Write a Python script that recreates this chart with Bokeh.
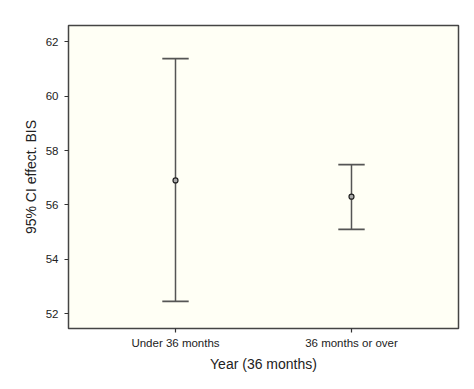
from bokeh.plotting import figure
from bokeh.models import FixedTicker, ColumnDataSource
from bokeh.embed import file_html
from bokeh.resources import INLINE

categories = ["Under 36 months", "36 months or over"]
positions = [1, 2]
means = [56.9, 56.3]
lower = [52.45, 55.1]
upper = [61.38, 57.48]
y_ticks = [52, 54, 56, 58, 60, 62]

cap = 0.075
src = ColumnDataSource(dict(
    x=positions, m=means, lo=lower, hi=upper,
    x0=[p - cap for p in positions], x1=[p + cap for p in positions],
))

p = figure(width=466, height=381, output_backend="svg", toolbar_location=None,
           x_range=(0.392, 2.608), y_range=(51.45, 62.6),
           min_border_left=68, min_border_right=8, min_border_top=25, min_border_bottom=53)
p.background_fill_color = "#fffff5"
p.border_fill_color = "white"
p.outline_line_color = "#444444"
p.outline_line_width = 1.5
p.grid.visible = False

line_col = "#555555"
p.segment(x0="x", x1="x", y0="lo", y1="hi", source=src, line_color=line_col, line_width=1.5)
p.segment(x0="x0", x1="x1", y0="hi", y1="hi", source=src, line_color=line_col, line_width=1.8)
p.segment(x0="x0", x1="x1", y0="lo", y1="lo", source=src, line_color=line_col, line_width=1.8)
p.scatter(x="x", y="m", source=src, size=5, marker="circle",
          line_color="#222222", fill_color="#aaaaaa", line_width=1.2)

for ax in (p.xaxis[0], p.yaxis[0]):
    ax.axis_line_color = None
    ax.minor_tick_line_color = None
    ax.major_tick_out = 4
    ax.major_tick_in = 0
    ax.major_tick_line_color = "#333333"
    ax.major_tick_line_width = 1.2
    ax.major_label_text_font = "Liberation Sans"
    ax.major_label_text_font_size = "11.5px"
    ax.major_label_text_color = "#222222"
    ax.axis_label_text_font = "Liberation Sans"
    ax.axis_label_text_font_size = "14px"
    ax.axis_label_text_font_style = "normal"
    ax.axis_label_text_color = "#222222"

p.xaxis.ticker = FixedTicker(ticks=positions)
p.xaxis.major_label_overrides = {pos: c for pos, c in zip(positions, categories)}
p.xaxis.axis_label = "Year (36 months)"
p.xaxis.major_label_standoff = 4
p.xaxis.axis_label_standoff = 4

p.yaxis.ticker = FixedTicker(ticks=y_ticks)
p.yaxis.axis_label = "95% CI effect. BIS"
p.yaxis.major_label_standoff = 6
p.yaxis.axis_label_standoff = 4

open("out.html", "w").write(file_html(p, INLINE))
